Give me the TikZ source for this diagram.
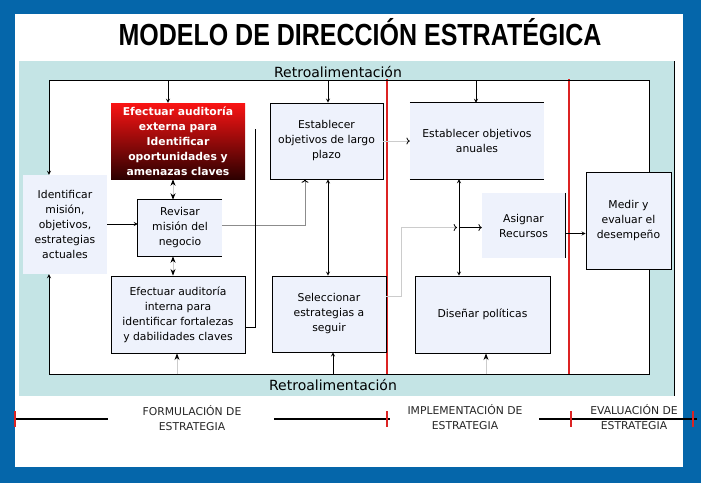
\documentclass[tikz,border=0pt]{standalone}
\usepackage{fontspec}
\setmainfont{DejaVu Sans}
\newfontfamily\fuentetitulo{Liberation Sans}
\usetikzlibrary{arrows.meta}

\definecolor{azulmarco}{RGB}{5,102,170}
\definecolor{verdeagua}{RGB}{196,228,229}
\definecolor{fondocaja}{RGB}{238,242,252}
\definecolor{rojolinea}{RGB}{220,35,35}
\definecolor{rojoalto}{RGB}{250,20,20}
\definecolor{rojomedio}{RGB}{190,0,0}
\definecolor{rojobajo}{RGB}{45,0,0}

\newcommand{\letracaja}{\fontsize{10.8}{15}\selectfont}

\tikzset{
    caja/.style={fill=fondocaja, inner sep=0pt, align=center, font=\letracaja},
    borde/.style={draw=black, line width=0.8pt},
    linea/.style={line width=0.8pt},
    flecha/.style={-stealth, line width=0.8pt},
    tenue/.style={draw=black!20, line width=0.8pt},
}

\begin{document}
\begin{tikzpicture}[x=1pt, y=-1pt]
        \useasboundingbox (0,0) rectangle (701,483);
        \fill[azulmarco] (0,0) rectangle (701,483);
        \fill[white] (15,14) rectangle (683,467);
        \fill[verdeagua] (19,61) rectangle (674,396);
        \draw[line width=0.6pt] (674,61) -- (674,396);
        \fill[white] (49,80) rectangle (649,374);

        \draw[rojolinea, line width=1.8pt] (387,79) -- (387,374);
        \draw[rojolinea, line width=1.1pt] (569,79) -- (569,374);

        \node (titulo) at (360,32) {\fuentetitulo\bfseries\fontsize{25}{25}\selectfont\scalebox{1}[1.22]{MODELO DE DIRECCIÓN ESTRATÉGICA}};
        \node[font=\fontsize{14}{14}\selectfont] (retroarriba) at (338,71.5) {Retroalimentación};
        \node[font=\fontsize{14}{14}\selectfont] (retroabajo) at (333,384.5) {Retroalimentación};

        \node[caja, minimum width=84pt, minimum height=99pt] (ident) at (65,224.5) {Identificar\\misión,\\objetivos,\\estrategias\\actuales};
        \node[inner sep=0pt, align=center, minimum width=134pt, minimum height=76pt,
              top color=rojoalto, middle color=rojomedio, bottom color=rojobajo,
              text=white, font=\letracaja\bfseries] (ext) at (178,141)
              {Efectuar auditoría\\externa para\\Identificar\\oportunidades y\\amenazas claves};
        \node[caja, minimum width=84pt, minimum height=56pt] (rev) at (180,228) {Revisar\\misión del\\negocio};
        \node[caja, borde, minimum width=134pt, minimum height=77pt] (inte) at (178,314.5) {Efectuar auditoría\\interna para\\identificar fortalezas\\y dabilidades claves};
        \node[caja, borde, minimum width=113pt, minimum height=76pt] (largo) at (326.5,141) {Establecer\\objetivos de largo\\plazo};
        \node[caja, borde, minimum width=114pt, minimum height=76pt] (selec) at (329,314) {Seleccionar\\estrategias a\\seguir};
        \node[caja, minimum width=134pt, minimum height=76pt] (anual) at (477,141) {Establecer objetivos\\anuales};
        \node[caja, minimum width=83pt, minimum height=65pt] (asig) at (523.5,225.5) {Asignar\\Recursos};
        \node[caja, borde, minimum width=85pt, minimum height=97pt] (medir) at (628.5,220.5) {Medir y\\evaluar el\\desempeño};
        \node[caja, borde, minimum width=135pt, minimum height=77pt] (dise) at (482.5,314.5) {Diseñar políticas};

        % bordes sueltos
        \draw[linea] (rev.north east) -- (rev.north west) -- (rev.south west) -- (rev.south east);
        \draw[linea] (anual.north west) -- (anual.north east);
        \draw[linea] (anual.south west) -- (anual.south east);
        \draw[linea] (asig.north east) -- (asig.south east);

        % lazo de retroalimentacion
        \coordinate (tl) at (49,80);
        \coordinate (tr) at (649,80);
        \coordinate (br) at (649,374);
        \coordinate (bl) at (49,374);
        \draw[linea] (tl) -- (tr) -- (tr |- medir.north);
        \draw[linea] (br |- medir.south) -- (br) -- (bl);
        \draw[flecha] (tl) -- (tl |- ident.north);
        \draw[flecha] (bl) -- (bl |- ident.south);

        \draw[flecha] ([xshift=-10pt]ext.north |- tl) -- ([xshift=-10pt]ext.north);
        \draw[flecha] ([xshift=1.5pt]largo.north |- tl) -- ([xshift=1.5pt]largo.north);
        \draw[flecha] ([xshift=-1pt]anual.north |- tl) -- ([xshift=-1pt]anual.north);
        \draw[tenue, -{Stealth[black]}] ([xshift=-1pt]inte.south |- bl) -- ([xshift=-1pt]inte.south);
        \draw[flecha] ([xshift=4pt]selec.south |- bl) -- ([xshift=4pt]selec.south);
        \draw[tenue, -{Stealth[black]}] ([xshift=3.5pt]dise.south |- bl) -- ([xshift=3.5pt]dise.south);

        % conexiones
        \draw[tenue, {Stealth[black]}-{Stealth[black]}] ([xshift=-5pt]ext.south) -- ([xshift=-5pt]ext.south |- rev.north);
        \draw[tenue, {Stealth[black]}-{Stealth[black]}] ([xshift=-5pt]ext.south |- rev.south) -- ([xshift=-5pt]ext.south |- inte.north);
        \draw[flecha] ([yshift=0.5pt]ident.east) -- ([yshift=0.5pt]ident.east -| rev.west);
        \draw[black!45, line width=0.8pt, -{To[black]}] ([yshift=3pt]rev.east) -| ([xshift=-21.5pt]largo.south);
        \coordinate (finint) at (255,129);
        \draw[linea] ([yshift=-12.5pt]inte.east) -| (finint);
        \draw[flecha, stealth-stealth] ([xshift=1.5pt]largo.south) -- ([xshift=1.5pt]largo.south |- selec.north);
        \draw[tenue, -{To[black]}] (largo.east) -- (anual.west);
        \draw[flecha, stealth-stealth] ([xshift=-18pt]anual.south) -- ([xshift=-18pt]anual.south |- dise.north);
        \coordinate (nudo) at (459,227.5);
        \draw[tenue, -{To[black]}] ([yshift=18pt]selec.east) -- ++(15,0) |- ([xshift=-2pt]nudo);
        \draw[linea, -{To}] (nudo) -- (nudo -| asig.west);
        \draw[flecha] ([yshift=-8pt]asig.east) -- ([yshift=-8pt]asig.east -| medir.west);

        % etapas
        \draw[line width=1.6pt] (15,419) -- (108,419);
        \draw[line width=1.6pt] (274,419) -- (390,419);
        \draw[line width=1.6pt] (539,419) -- (697,419);
        \foreach \x in {15,387,571,693}
            \draw[rojolinea, line width=1.6pt] (\x,411) -- (\x,427);
        \node[font=\letracaja, text=black!85, align=center] (formula) at (192,418) {FORMULACIÓN DE\\ESTRATEGIA};
        \node[font=\letracaja, text=black!85, align=center] (implementa) at (465,417) {IMPLEMENTACIÓN DE\\ESTRATEGIA};
        \node[font=\letracaja, text=black!85, align=center] (evalua) at (634,417) {EVALUACIÓN DE\\ESTRATEGIA};
    \end{tikzpicture}
\end{document}
